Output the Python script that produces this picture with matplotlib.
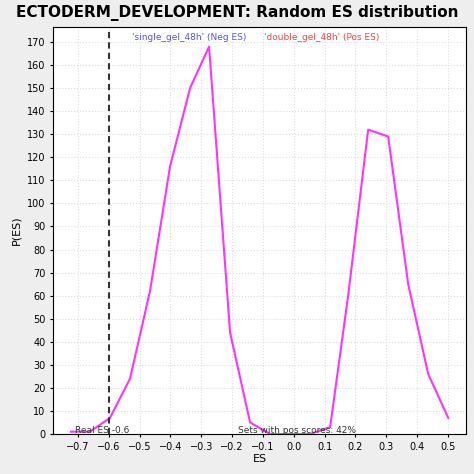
import numpy as np
import matplotlib.pyplot as plt

px = np.array([71, 90, 110, 130, 150, 170, 190, 209, 230, 250, 270, 290, 310, 330, 348, 368, 388, 408, 428, 448])
es = -0.7 + (px - 78) / 308.0
p_es = [1, 1, 7, 24, 62, 116, 150, 168, 44, 5, 0, 0, 0, 3, 60, 132, 129, 65, 26, 7]
real_es = -0.6

fig = plt.figure(figsize=(4.74, 4.74), dpi=100)
fig.patch.set_facecolor('#eeeeee')
ax = fig.add_axes([53/474, 1-434/474, (466-53)/474, (434-27)/474])
ax.plot(es, p_es, color='#ff33ff', lw=1.5)
ax.axvline(real_es, color='#333333', ls=(0, (3, 2)), lw=1.5)
ax.set_xlim(-0.781, 0.559)
ax.set_ylim(0, 176.5)
ax.set_xticks(np.round(np.arange(-0.7, 0.51, 0.1), 1))
ax.set_yticks(range(0, 171, 10))
ax.tick_params(labelsize=7, length=2)
ax.grid(True, color='#dddddd', ls=':', lw=0.8)
ax.set_xlabel('ES', fontsize=8, labelpad=2)
ax.set_ylabel('P(ES)', fontsize=8)
fig.suptitle('ECTODERM_DEVELOPMENT: Random ES distribution', fontsize=11, fontweight='bold', x=0.5, y=0.99)
ax.text(0.33, 0.985, "'single_gel_48h' (Neg ES)", color='#5555dd', fontsize=6.5, transform=ax.transAxes, ha='center', va='top')
ax.text(0.65, 0.985, "'double_gel_48h' (Pos ES)", color='#ee4444', fontsize=6.5, transform=ax.transAxes, ha='center', va='top')
ax.text(-0.71, 0.5, 'Real ES -0.6', fontsize=6.5, color='#333333')
ax.text(-0.18, 0.5, 'Sets with pos scores: 42%', fontsize=6.5, color='#333333')
fig.savefig('out.png', dpi=100, facecolor=fig.get_facecolor())
